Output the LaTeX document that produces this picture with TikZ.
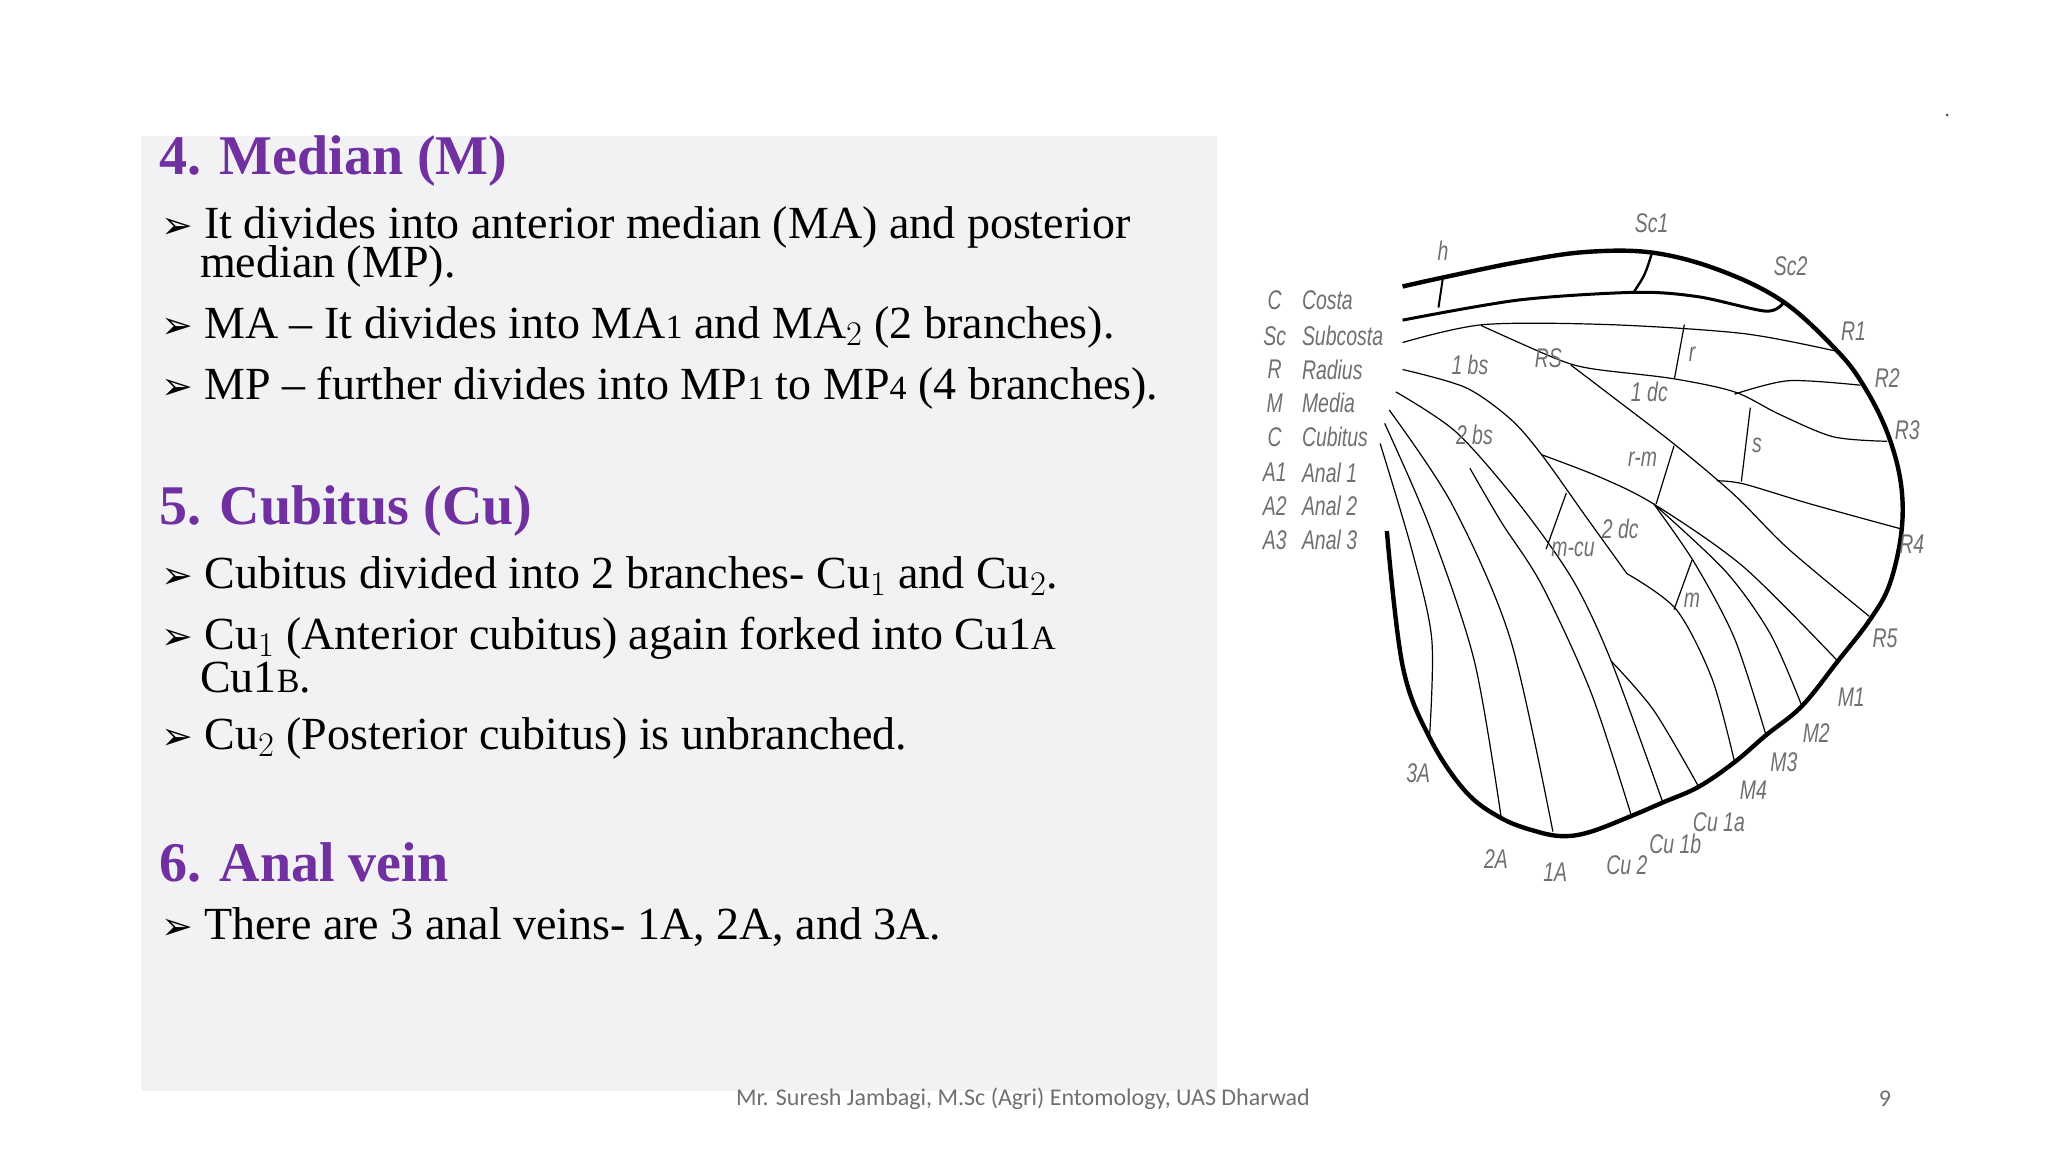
\documentclass[tikz,border=0pt]{standalone}
\usepackage{fontspec}
\setmainfont{Liberation Serif}
\newfontfamily\dejavu{DejaVu Sans}
\newfontfamily\footfont{Carlito}
\newfontfamily\lblfont[FakeStretch=0.72]{Liberation Sans}
\definecolor{panel}{HTML}{F2F2F4}
\definecolor{ttl}{HTML}{7030A0}
\definecolor{lbl}{HTML}{707070}
\tikzset{
 title/.style={anchor=west,text=ttl,font=\fontsize{28}{30}\selectfont\bfseries,inner ysep=0pt},
 body/.style={anchor=west,font=\fontsize{23}{24}\selectfont,align=left,inner ysep=0pt},
 vein/.style={line width=0.6pt},
 wl/.style={text=lbl,font=\lblfont\itshape\fontsize{13.5}{14}\selectfont,inner sep=0pt},
}
\newcommand{\bul}{{\dejavu\bfseries\fontsize{19}{19}\selectfont ➢}\ }
\newcommand{\sm}[1]{{\fontsize{17}{17}\selectfont #1}}
\begin{document}
\begin{tikzpicture}[x=0.5pt,y=-0.5pt]
\useasboundingbox (0,0) rectangle (2048,1152);
\fill[white] (0,0) rectangle (2048,1152);
\fill[panel] (141,136) rectangle (1217,1091);
\node[title] (t1) at (152,161) {4. Median (M)};
\node[body] (a1) at (154,227) {\bul It divides into anterior median (MA) and posterior};
\node[body] (a2) at (193,266) {median (MP).};
\node[body] (a3) at (154,327) {\bul MA -- It divides into MA\sm{1} and MA$_2$ (2 branches).};
\node[body] (a4) at (154,388) {\bul MP -- further divides into MP\sm{1} to MP\sm{4} (4 branches).};
\node[title] (t2) at (152,511) {5. Cubitus (Cu)};
\node[body] (b1) at (154,576) {\bul Cubitus divided into 2 branches- Cu$_1$ and Cu$_2$.};
\node[body] (b2) at (154,638) {\bul Cu$_1$ (Anterior cubitus) again forked into Cu1\sm{A}};
\node[body] (b3) at (193,678) {Cu1\sm{B}.};
\node[body] (b4) at (154,738) {\bul Cu$_2$ (Posterior cubitus) is unbranched.};
\node[title] (t3) at (152,862) {6. Anal vein};
\node[body] (c1) at (154,927) {\bul There are 3 anal veins- 1A, 2A, and 3A.};
\node[text=lbl,font=\footfont\fontsize{12}{12}\selectfont] (ft) at (1023,1099) {Mr. Suresh Jambagi, M.Sc (Agri) Entomology, UAS Dharwad};
\node[text=lbl,font=\footfont\fontsize{12}{12}\selectfont] (pg) at (1885,1099) {9};
\fill[black!70] (1947,115) circle (1.5);
\begin{scope}[shift={(1250,190)},scale=0.4487]
% outline
\draw[line width=2.2pt] plot[smooth,tension=0.6] coordinates {(340,215)(430,195)(600,160)(750,138)(900,140)(1050,180)(1190,250)(1310,360)(1370,440)(1420,540)(1450,650)(1452,760)(1425,880)(1380,960)(1310,1050)(1230,1150)(1150,1215)(1080,1275)(1000,1330)(920,1365)(850,1395)(760,1430)(700,1440)(640,1430)(560,1400)(480,1340)(400,1220)(340,1060)(305,760)};
\draw[line width=1.5pt] plot[smooth,tension=0.5] coordinates {(340,290)(600,245)(860,228)(1000,238)(1150,270)(1190,250)};
\draw[line width=1pt] (430,195) -- (420,262);
\draw[line width=1.2pt] (895,143) .. controls (880,190) .. (855,228);
\draw[vein] plot[smooth] coordinates {(340,340)(520,300)(800,300)(1100,320)(1310,360)};
\draw[vein] plot[smooth] coordinates {(515,302)(680,375)(760,398)(940,420)(1080,450)(1180,500)(1300,550)(1420,560)};
\draw[vein] plot[smooth] coordinates {(1080,455)(1200,425)(1360,435)};
\draw[vein] (968,300) -- (946,420);
\draw[vein] (1115,485) -- (1095,650);
\draw[vein] plot[smooth] coordinates {(1040,648)(1100,655)(1250,700)(1450,755)};
\draw[vein] plot[smooth] coordinates {(715,390)(820,470)(950,570)(1080,680)(1200,800)(1380,950)};
\draw[vein] (945,570) -- (905,700);
\draw[vein] plot[smooth] coordinates {(340,400)(480,440)(580,510)(650,590)(750,730)(840,855)};
\draw[vein] plot[smooth] coordinates {(650,590)(780,640)(900,700)(1100,840)(1310,1050)};
\draw[vein] plot[smooth] coordinates {(900,700)(1060,850)(1160,990)(1230,1150)};
\draw[vein] plot[smooth] coordinates {(900,700)(990,830)(1080,1000)(1150,1215)};
\draw[vein] (985,825) -- (945,935);
\draw[vein] plot[smooth] coordinates {(840,855)(950,935)(1030,1090)(1080,1275)};
\draw[vein] plot[smooth] coordinates {(325,450)(460,540)(600,700)(720,870)(805,1050)(920,1365)};
\draw[vein] plot[smooth] coordinates {(805,1050)(900,1160)(1000,1330)};
\draw[vein] plot[smooth] coordinates {(490,620)(560,740)(650,880)(760,1120)(850,1395)};
\draw[vein] (705,675) -- (660,800);
\draw[vein] plot[smooth] coordinates {(310,490)(450,700)(580,1000)(675,1430)};
\draw[vein] plot[smooth] coordinates {(300,520)(400,750)(500,1050)(560,1400)};
\draw[vein] plot[smooth] coordinates {(290,565)(360,800)(405,1000)(400,1220)};
% labels
\foreach \t/\x/\y in {h/430/135,Sc1/895/75,Sc2/1205/170,R1/1345/315,R2/1420/420,R3/1465/535,R4/1475/790,R5/1415/1000,M1/1340/1130,M2/1262/1210,M3/1190/1275,M4/1122/1338,Cu 1a/1045/1408,Cu 1b/948/1458,Cu 2/840/1505,1A/680/1520,2A/548/1490,3A/375/1300,1 bs/490/390,RS/665/375,r/985/365,1 dc/890/450,s/1130/570,2 bs/500/545,r-m/875/600,m-cu/720/800,2 dc/825/755,m/985/915}
  \node[wl] (w\x\y) at (\x,\y) {\t};
\foreach \a/\b/\y in {C/Costa/245,Sc/Subcosta/325,R/Radius/400,M/Media/475,C/Cubitus/550,A1/Anal 1/630,A2/Anal 2/705,A3/Anal 3/780}{
  \node[wl] (la\y) at (55,\y) {\a};
  \node[wl,anchor=west] (lb\y) at (115,\y) {\b};}
\end{scope}
\end{tikzpicture}
\end{document}
